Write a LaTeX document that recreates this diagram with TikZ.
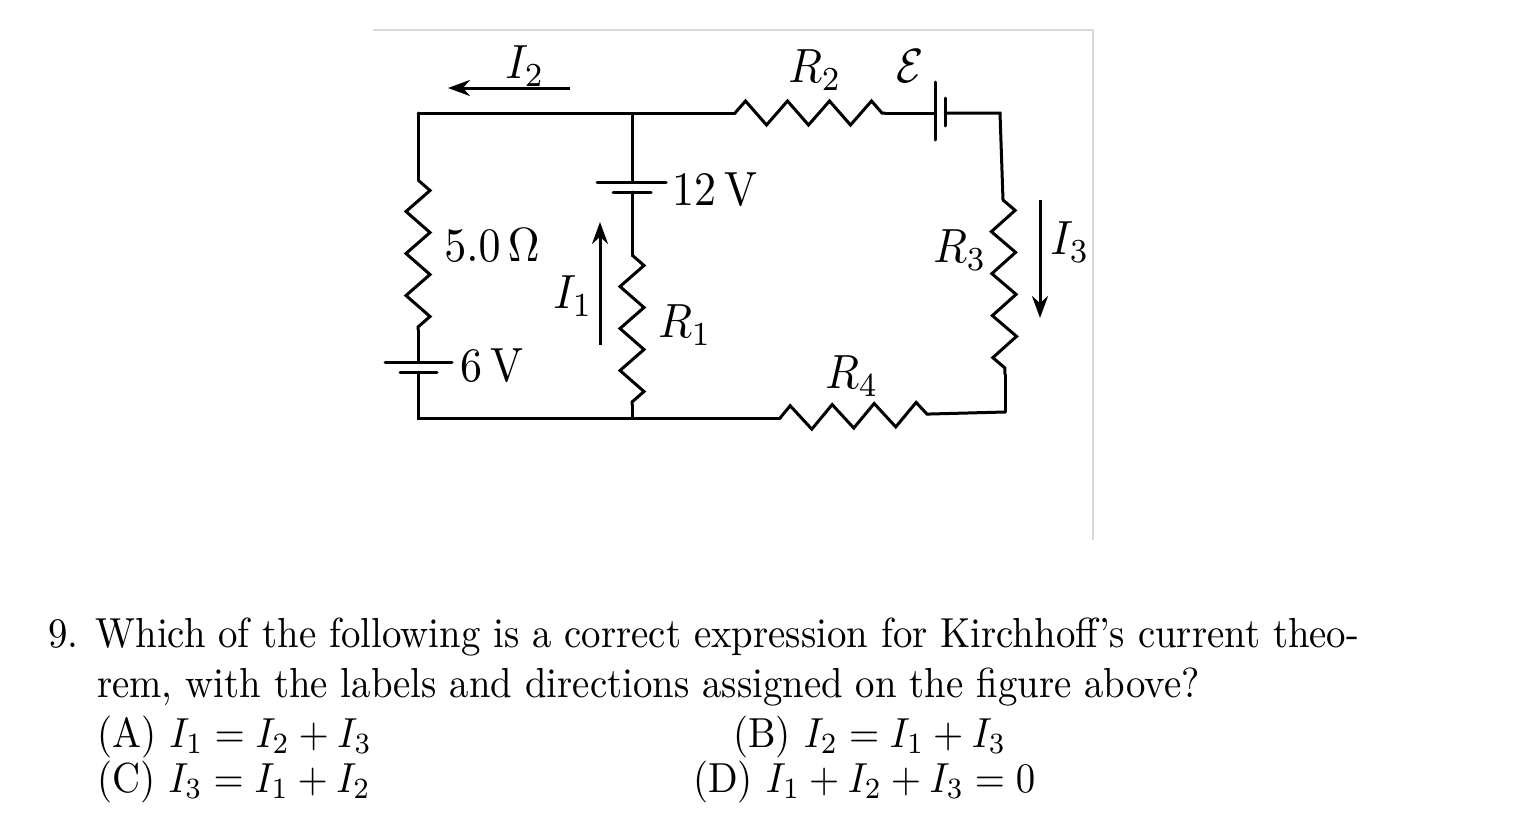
\documentclass[tikz,border=0pt]{standalone}
\usepackage{graphicx}
\usetikzlibrary{decorations.pathmorphing,arrows.meta}
\newcommand{\clab}[1]{\scalebox{4.4}[4.8]{#1}}
\newcommand{\qtxt}[1]{\scalebox{3.88}[4.2]{#1}}
\begin{document}
\begin{tikzpicture}[x=1pt,y=-1pt,
  wire/.style={line width=3pt,line cap=round},
  res/.style={line width=3pt,decorate,decoration={zigzag,segment length=42pt,amplitude=12pt}},
  cur/.style={line width=3pt,-{Stealth[length=22pt,width=16pt]}},
  lab/.style={inner sep=0pt},
  txt/.style={inner sep=0pt,anchor=west}]
\useasboundingbox (0,0) rectangle (1522,838);
\draw[gray!30,line width=1.5pt] (373,30) -- (1093,30) -- (1093,540);
% corners
\coordinate (tl) at (418,113); \coordinate (tm) at (632,113);
\coordinate (tr) at (1000,113); \coordinate (bl) at (418,418);
\coordinate (bm) at (632,418); \coordinate (br) at (1005,412);
% left branch
\coordinate (l1) at (418,180); \coordinate (l2) at (418,330);
\coordinate (b6a) at (418,362); \coordinate (b6b) at (418,372);
\draw[wire] (tl) -- (l1); \draw[res] (l1) -- (l2); \draw[wire] (l2) -- (b6a);
\draw[wire] (385,362) -- (452,362); \draw[wire] (400,372) -- (437,372);
\draw[wire] (b6b) -- (bl) -- (bm);
% middle branch
\coordinate (m1) at (632,182); \coordinate (m2) at (632,192);
\coordinate (m3) at (632,255); \coordinate (m4) at (632,405);
\draw[wire] (tl) -- (tm) -- (m1);
\draw[wire] (597,182) -- (666,182); \draw[wire] (613,192) -- (651,192);
\draw[wire] (m2) -- (m3); \draw[res] (m3) -- (m4); \draw[wire] (m4) -- (bm);
% top
\coordinate (r2a) at (735,113); \coordinate (r2b) at (885,113);
\coordinate (ea) at (935,113); \coordinate (eb) at (945,113);
\draw[wire] (tm) -- (r2a); \draw[res] (r2a) -- (r2b); \draw[wire] (r2b) -- (ea);
\draw[wire] (935,82) -- (935,140); \draw[wire] (945,98) -- (945,126);
\draw[wire] (eb) -- (tr) -- (1003,200);
% right
\coordinate (r3a) at (1003,200); \coordinate (r3b) at (1005,375);
\draw[res] (r3a) -- (r3b); \draw[wire] (r3b) -- (br);
% bottom
\coordinate (r4a) at (780,418); \coordinate (r4b) at (930,414);
\draw[wire] (bm) -- (r4a); \draw[res] (r4a) -- (r4b); \draw[wire] (r4b) -- (br);
% currents
\coordinate (i2a) at (570,88); \coordinate (i2b) at (448,88);
\draw[cur] (i2a) -- (i2b);
\coordinate (i1a) at (600,345); \coordinate (i1b) at (600,222);
\draw[cur] (i1a) -- (i1b);
\coordinate (i3a) at (1040,200); \coordinate (i3b) at (1040,318);
\draw[cur] (i3a) -- (i3b);
% labels
\node[lab] (L1) at (525,66) {\clab{$I_2$}};
\node[lab] (L2) at (573,296) {\clab{$I_1$}};
\node[lab] (L3) at (1070,242) {\clab{$I_3$}};
\node[lab] (L4) at (492,245) {\clab{$5.0\,\Omega$}};
\node[lab] (L5) at (960,250) {\clab{$R_3$}};
\node[lab] (L6) at (685,325) {\clab{$R_1$}};
\node[lab] (L7) at (852,376) {\clab{$R_4$}};
\node[lab] (L8) at (815,70) {\clab{$R_2$}};
\node[lab] (L9) at (910,66) {\clab{$\mathcal{E}$}};
\node[lab] (L10) at (715,190) {\clab{12\,V}};
\node[lab] (L11) at (492,366) {\clab{6\,V}};
% question
\node[txt] (q1) at (48,637) {\qtxt{9. Which of the following is a correct expression for Kirchhoff's current theo-}};
\node[txt] (q2) at (97,687) {\qtxt{rem, with the labels and directions assigned on the figure above?}};
\node[txt] (a) at (97,737) {\qtxt{(A) $I_1=I_2+I_3$}};
\node[txt] (b) at (733,737) {\qtxt{(B) $I_2=I_1+I_3$}};
\node[txt] (c) at (97,782) {\qtxt{(C) $I_3=I_1+I_2$}};
\node[txt] (d) at (693,782) {\qtxt{(D) $I_1+I_2+I_3=0$}};
\end{tikzpicture}
\end{document}
